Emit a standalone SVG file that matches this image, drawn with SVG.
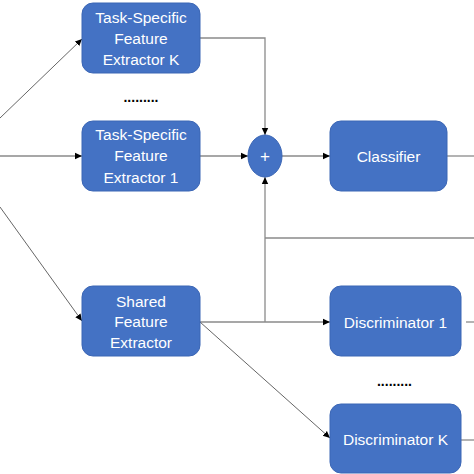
<svg xmlns="http://www.w3.org/2000/svg" width="474" height="474" viewBox="0 0 474 474">
<defs>
<marker id="arr" markerWidth="8" markerHeight="8" refX="7" refY="4" orient="auto" markerUnits="userSpaceOnUse">
<path d="M0,0.8 L7,4 L0,7.2 Z" fill="#000"/>
</marker>
<style>
.box{fill:#4472C4;stroke:#3B66B5;stroke-width:1}
.t{font-family:"Liberation Sans",Arial,sans-serif;font-size:15.5px;fill:#fff;text-anchor:middle}
.ln{fill:none;stroke:#8a8a8a;stroke-width:1.3}
.dl{fill:none;stroke:#666;stroke-width:1}
.dots{font-family:"Liberation Sans",Arial,sans-serif;font-size:14px;font-weight:bold;fill:#000;text-anchor:middle}
</style>
</defs>
<rect width="474" height="474" fill="#fff"/>
<g id="connectors">
<line class="dl" x1="0" y1="118" x2="82" y2="39" marker-end="url(#arr)"/>
<line class="ln" x1="0" y1="156" x2="82" y2="156" marker-end="url(#arr)"/>
<line class="dl" x1="0" y1="207" x2="82" y2="321" marker-end="url(#arr)"/>
<polyline class="ln" points="200,38 265,38 265,135" marker-end="url(#arr)"/>
<line class="ln" x1="200" y1="156" x2="248" y2="156" marker-end="url(#arr)"/>
<line class="ln" x1="282" y1="156" x2="330" y2="156" marker-end="url(#arr)"/>
<line class="ln" x1="447" y1="156" x2="474" y2="156"/>
<line class="ln" x1="265" y1="238" x2="474" y2="238"/>
<line class="ln" x1="265" y1="322" x2="265" y2="177" marker-end="url(#arr)"/>
<line class="ln" x1="200" y1="322" x2="330" y2="322" marker-end="url(#arr)"/>
<line class="dl" x1="200" y1="322" x2="330" y2="438" marker-end="url(#arr)"/>
<line class="ln" x1="466" y1="322" x2="474" y2="322"/>
<line class="ln" x1="461" y1="440" x2="474" y2="440"/>
</g>
<g id="tsfe-k">
<rect class="box" x="82" y="3" width="118" height="70" rx="11"/>
<text class="t" x="141" y="22.5">Task-Specific</text>
<text class="t" x="141" y="43.5">Feature</text>
<text class="t" x="141" y="64.5">Extractor K</text>
</g>
<text class="dots" x="141" y="102">.........</text>
<g id="tsfe-1">
<rect class="box" x="82" y="121" width="118" height="70" rx="11"/>
<text class="t" x="141" y="139.5">Task-Specific</text>
<text class="t" x="141" y="161">Feature</text>
<text class="t" x="141" y="182.5">Extractor 1</text>
</g>
<g id="shared">
<rect class="box" x="82" y="286" width="118" height="70" rx="11"/>
<text class="t" x="141" y="306.5">Shared</text>
<text class="t" x="141" y="327">Feature</text>
<text class="t" x="141" y="347.5">Extractor</text>
</g>
<g id="plus">
<ellipse class="box" cx="265" cy="156" rx="17" ry="21"/>
<text class="t" x="265" y="162" style="font-size:17px">+</text>
</g>
<g id="classifier">
<rect class="box" x="330" y="121" width="117" height="70" rx="11"/>
<text class="t" x="388.5" y="161.5">Classifier</text>
</g>
<g id="disc-1">
<rect class="box" x="330" y="286" width="131" height="70" rx="11"/>
<text class="t" x="395.5" y="327.5">Discriminator 1</text>
</g>
<text class="dots" x="394.5" y="386">.........</text>
<g id="disc-k">
<rect class="box" x="330" y="404" width="131" height="69" rx="11"/>
<text class="t" x="395.5" y="444.5">Discriminator K</text>
</g>
</svg>
